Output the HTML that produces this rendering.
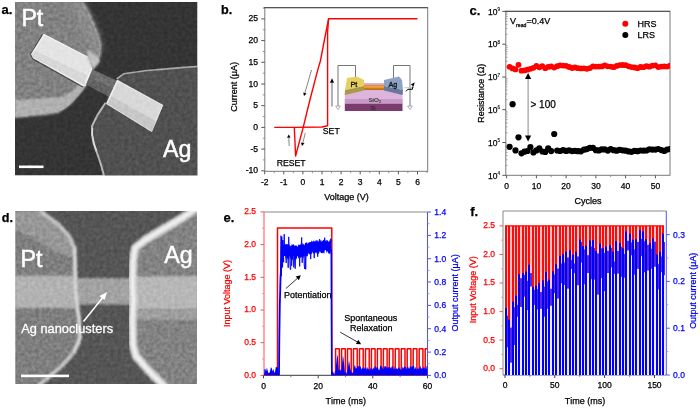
<!DOCTYPE html><html><head><meta charset="utf-8"><title>Figure</title><style>html,body{margin:0;padding:0;background:#fff;}svg{display:block;}text{font-family:'Liberation Sans', Arial, sans-serif;}</style></head><body>
<svg width="700" height="408" viewBox="0 0 700 408">
<defs>
<clipPath id="clipA"><rect x="15" y="2" width="182.5" height="173.5"/></clipPath>
<clipPath id="clipD"><rect x="15.3" y="211" width="181.7" height="173"/></clipPath>
<clipPath id="clipB"><rect x="264.8" y="7.6" width="162.8" height="163.8"/></clipPath>
<clipPath id="clipC"><rect x="505.8" y="11.4" width="164.2" height="163.9"/></clipPath>
<clipPath id="clipE"><rect x="264" y="212" width="163.5" height="163.4"/></clipPath>
<clipPath id="clipF"><rect x="503" y="211" width="163.3" height="164"/></clipPath>
<filter id="soft" x="-5%" y="-5%" width="110%" height="110%"><feGaussianBlur stdDeviation="0.8"/></filter>
<filter id="soft05" x="-5%" y="-5%" width="110%" height="110%"><feGaussianBlur stdDeviation="0.45"/></filter>
<filter id="soft3" x="-20%" y="-20%" width="140%" height="140%"><feGaussianBlur stdDeviation="3"/></filter>
<filter id="grain" color-interpolation-filters="sRGB" x="0" y="0" width="100%" height="100%"><feTurbulence type="fractalNoise" baseFrequency="0.28" numOctaves="3" seed="4" result="n"/><feColorMatrix type="matrix" values="1 0 0 0 0  1 0 0 0 0  1 0 0 0 0  0 0 0 0 1"/></filter>
<marker id="ah" viewBox="0 0 10 10" refX="9" refY="5" markerWidth="5" markerHeight="5" orient="auto"><path d="M0,0 L10,5 L0,10 z" fill="#000"/></marker>
</defs>
<rect width="700" height="408" fill="#fff"/>
<g clip-path="url(#clipA)">
<rect x="15" y="2" width="182.5" height="173.5" fill="#343434"/>
<polygon points="15,2 83,2 87,9 93,22 98,34 101,46 100,56 96,66 90,78 86,86 80,94 73,102 66,108 58,112 45,113 30,115 15,117" fill="#818181"/>
<polygon points="70,2 83,2 87,9 93,22 98,34 101,46 100,56 92,50 82,30" fill="#8c8c8c" filter="url(#soft3)"/>
<polygon points="15,101.5 30,100.5 45,99.5 58,99 66,97 72,93 78,87 82,82 87,80 86,86 80,94 73,102 66,108 58,113 45,115 30,116.5 15,118" fill="#b0b0b0" filter="url(#soft)"/>
<polyline points="15,101.5 30,100.5 45,99.5 58,99 66,97 72,93 78,87 82,82" fill="none" stroke="#c4c4c4" stroke-width="1.6" filter="url(#soft)"/>
<polyline points="83,2 87,9 93,22 98,34 101,46 100,56 97,63" fill="none" stroke="#c8c8c8" stroke-width="1" filter="url(#soft)"/>
<polygon points="116.7,79 124,73.7 145,70.7 169.5,68.6 187.6,67.1 198,66.5 198,176 104,176 101.6,166.7 98.7,157.7 93.8,144 91.9,134.2 91.9,126.4 97.7,114.6 105.6,102.8 110,92" fill="#505050"/>
<polyline points="116.7,79 124,73.7 145,70.7 169.5,68.6 187.6,67.1 198,66.5" fill="none" stroke="#a8a8a8" stroke-width="1.6" stroke-linejoin="round" filter="url(#soft05)"/>
<polyline points="105.6,102.8 97.7,114.6 91.9,126.4 91.9,134.2 93.8,144 98.7,157.7 101.6,166.7 104,176" fill="none" stroke="#b4b4b4" stroke-width="2" stroke-linejoin="round" filter="url(#soft05)"/>
<polyline points="92.5,128 92.2,134 93.8,143 96.5,151" fill="none" stroke="#e0e0e0" stroke-width="1.4" stroke-linejoin="round" filter="url(#soft05)"/>
<polyline points="42.5,34.5 30.6,54.3 33,59 83,87" fill="none" stroke="#4a4a4a" stroke-width="1.3" filter="url(#soft05)"/>
<polygon points="44,34.6 87.5,57 91.7,68.9 85.4,85 83.5,85.6 33.6,57.6 31.8,54.2" fill="#e4e4e4" stroke="#f2f2f2" stroke-width="1.4" stroke-linejoin="round"/>
<polygon points="34.5,50.5 86.5,75 84.5,85 33.6,57.6 31.8,54.2" fill="#d8d8d8"/>
<polygon points="91.7,68.9 117.2,80.8 113.2,99.1 85.4,84" fill="#6e6e6e"/>
<polygon points="88.5,77 115.5,90 113.2,99.1 85.4,84" fill="#626262"/>
<polygon points="117.5,80.6 162.5,105.2 151.7,131.1 107,103.6" fill="#d8d8d8" stroke="#e8e8e8" stroke-width="1.3" stroke-linejoin="round"/>
<polygon points="110.5,96 156.5,121.5 151.7,131.1 107,103.6" fill="#c8c8c8"/>
<polyline points="91.7,68.9 85.4,84" fill="none" stroke="#f4f4f4" stroke-width="1.4"/>
<polyline points="117.5,80.6 107,103.6" fill="none" stroke="#f0f0f0" stroke-width="1.4"/>
<polygon points="87,50 96,55 100,60 97,66 92,68 88,60" fill="#c0c0c0" filter="url(#soft)"/>
<text x="21.4" y="26.1" font-size="23.2" fill="#fff" text-anchor="start" font-weight="normal" stroke="#fff" stroke-width="0.5" >Pt</text>
<text x="163.1" y="156.7" font-size="23.2" fill="#fff" text-anchor="start" font-weight="normal" stroke="#fff" stroke-width="0.5" >Ag</text>
<rect x="19" y="165.5" width="24.5" height="2.6" fill="#fff"/>
<rect x="15" y="2" width="182.5" height="173.5" filter="url(#grain)" opacity="0.22" style="mix-blend-mode:overlay"/>
</g>
<g clip-path="url(#clipD)">
<rect x="15.3" y="211" width="182" height="173" fill="#555"/>
<polygon points="15,211 40,211 58,224 69,236 74.5,248 75,262 75.5,290 77,305 79,318 80,338 74,352 62,366 50,376 38,386 15,386" fill="#7e7e7e"/>
<polygon points="15,211 40,211 58,224 69,236 74.5,248 75,256 70,257 57,253 45,245 30,236 15,230" fill="#979797" filter="url(#soft)"/>
<polygon points="198,208 197,208 182,218 165,228 145,240 135,248 133,262 132.5,285 133.5,300 132.5,320 133,345 136,356 149,371 165,387 198,387" fill="#828282"/>
<rect x="15" y="275.6" width="61" height="32.4" fill="#b2b2b2" filter="url(#soft)"/>
<rect x="75" y="278" width="57" height="26.5" fill="#a2a2a2" filter="url(#soft)"/>
<rect x="132" y="276.3" width="66" height="33.5" fill="#b7b7b7" filter="url(#soft)"/>
<rect x="132" y="309.5" width="66" height="10.5" fill="#9e9e9e" filter="url(#soft)"/>
<polyline points="40,211 58,224 69,236 74.5,248 75,262 75.5,290 77,305 79,318 80,338 74,352 62,366 50,376 38,386" fill="none" stroke="#c6c6c6" stroke-width="4" stroke-linejoin="round" filter="url(#soft)"/>
<polyline points="74.5,248 75,262 75.5,290 77,305 79,318 80,338 74,352" fill="none" stroke="#e0e0e0" stroke-width="1.5" stroke-linejoin="round" filter="url(#soft)"/>
<polyline points="197,208 182,218 165,228 145,240 135,248 133,262 132.5,285 133.5,300 132.5,320 133,345 136,356 149,371 165,387" fill="none" stroke="#d0d0d0" stroke-width="8.5" stroke-linejoin="round" filter="url(#soft)"/>
<polyline points="197,208 182,218 165,228 145,240 135,248 133,262 132.5,285 133.5,300 132.5,320 133,345 136,356 149,371 165,387" fill="none" stroke="#f3f3f3" stroke-width="3.5" stroke-linejoin="round" filter="url(#soft)"/>
<text x="20.5" y="267.2" font-size="23.2" fill="#fff" text-anchor="start" font-weight="normal" stroke="#fff" stroke-width="0.5" >Pt</text>
<text x="164.3" y="263.2" font-size="23.2" fill="#fff" text-anchor="start" font-weight="normal" stroke="#fff" stroke-width="0.5" >Ag</text>
<text x="21.3" y="333.1" font-size="12.8" fill="#fff" text-anchor="start" font-weight="normal" stroke="#fff" stroke-width="0.3" >Ag nanoclusters</text>
<line x1="83.5" y1="321.5" x2="104" y2="296" stroke="#fff" stroke-width="1.5"/>
<polygon points="107,292 99.5,296 104.5,300" fill="#fff"/>
<rect x="21" y="374.6" width="48" height="2.6" fill="#fff"/>
<rect x="15.3" y="211" width="182" height="173" filter="url(#grain)" opacity="0.22" style="mix-blend-mode:overlay"/>
</g>
<rect x="264.8" y="7.6" width="162.9" height="163.7" fill="none" stroke="#7a7a7a" stroke-width="1"/>
<line x1="263.8" y1="7.6" x2="427.7" y2="7.6" stroke="#555" stroke-width="1.1"/>
<line x1="261.3" y1="170.8" x2="264.8" y2="170.8" stroke="#555" stroke-width="1"/>
<text x="258.1" y="173.3" font-size="8.6" fill="#000" text-anchor="end" font-weight="normal" stroke="#000" stroke-width="0.25" >-10</text>
<line x1="261.3" y1="149.1" x2="264.8" y2="149.1" stroke="#555" stroke-width="1"/>
<text x="258.1" y="151.6" font-size="8.6" fill="#000" text-anchor="end" font-weight="normal" stroke="#000" stroke-width="0.25" >-5</text>
<line x1="261.3" y1="127.4" x2="264.8" y2="127.4" stroke="#555" stroke-width="1"/>
<text x="258.1" y="129.9" font-size="8.6" fill="#000" text-anchor="end" font-weight="normal" stroke="#000" stroke-width="0.25" >0</text>
<line x1="261.3" y1="105.7" x2="264.8" y2="105.7" stroke="#555" stroke-width="1"/>
<text x="258.1" y="108.2" font-size="8.6" fill="#000" text-anchor="end" font-weight="normal" stroke="#000" stroke-width="0.25" >5</text>
<line x1="261.3" y1="84" x2="264.8" y2="84" stroke="#555" stroke-width="1"/>
<text x="258.1" y="86.5" font-size="8.6" fill="#000" text-anchor="end" font-weight="normal" stroke="#000" stroke-width="0.25" >10</text>
<line x1="261.3" y1="62.3" x2="264.8" y2="62.3" stroke="#555" stroke-width="1"/>
<text x="258.1" y="64.8" font-size="8.6" fill="#000" text-anchor="end" font-weight="normal" stroke="#000" stroke-width="0.25" >15</text>
<line x1="261.3" y1="40.6" x2="264.8" y2="40.6" stroke="#555" stroke-width="1"/>
<text x="258.1" y="43.1" font-size="8.6" fill="#000" text-anchor="end" font-weight="normal" stroke="#000" stroke-width="0.25" >20</text>
<line x1="261.3" y1="18.9" x2="264.8" y2="18.9" stroke="#555" stroke-width="1"/>
<text x="258.1" y="21.4" font-size="8.6" fill="#000" text-anchor="end" font-weight="normal" stroke="#000" stroke-width="0.25" >25</text>
<line x1="262.8" y1="159.9" x2="264.8" y2="159.9" stroke="#777" stroke-width="0.8"/>
<line x1="262.8" y1="138.2" x2="264.8" y2="138.2" stroke="#777" stroke-width="0.8"/>
<line x1="262.8" y1="116.6" x2="264.8" y2="116.6" stroke="#777" stroke-width="0.8"/>
<line x1="262.8" y1="94.9" x2="264.8" y2="94.9" stroke="#777" stroke-width="0.8"/>
<line x1="262.8" y1="73.2" x2="264.8" y2="73.2" stroke="#777" stroke-width="0.8"/>
<line x1="262.8" y1="51.5" x2="264.8" y2="51.5" stroke="#777" stroke-width="0.8"/>
<line x1="262.8" y1="29.8" x2="264.8" y2="29.8" stroke="#777" stroke-width="0.8"/>
<line x1="262.8" y1="8.1" x2="264.8" y2="8.1" stroke="#777" stroke-width="0.8"/>
<line x1="264.7" y1="171.3" x2="264.7" y2="174.3" stroke="#555" stroke-width="1"/>
<text x="264.7" y="184.5" font-size="8.5" fill="#000" text-anchor="middle" font-weight="normal" stroke="#000" stroke-width="0.25" >-2</text>
<line x1="274.2" y1="171.3" x2="274.2" y2="173.1" stroke="#777" stroke-width="0.8"/>
<line x1="283.8" y1="171.3" x2="283.8" y2="174.3" stroke="#555" stroke-width="1"/>
<text x="283.8" y="184.5" font-size="8.5" fill="#000" text-anchor="middle" font-weight="normal" stroke="#000" stroke-width="0.25" >-1</text>
<line x1="293.3" y1="171.3" x2="293.3" y2="173.1" stroke="#777" stroke-width="0.8"/>
<line x1="302.9" y1="171.3" x2="302.9" y2="174.3" stroke="#555" stroke-width="1"/>
<text x="302.9" y="184.5" font-size="8.5" fill="#000" text-anchor="middle" font-weight="normal" stroke="#000" stroke-width="0.25" >0</text>
<line x1="312.4" y1="171.3" x2="312.4" y2="173.1" stroke="#777" stroke-width="0.8"/>
<line x1="322" y1="171.3" x2="322" y2="174.3" stroke="#555" stroke-width="1"/>
<text x="322" y="184.5" font-size="8.5" fill="#000" text-anchor="middle" font-weight="normal" stroke="#000" stroke-width="0.25" >1</text>
<line x1="331.5" y1="171.3" x2="331.5" y2="173.1" stroke="#777" stroke-width="0.8"/>
<line x1="341.1" y1="171.3" x2="341.1" y2="174.3" stroke="#555" stroke-width="1"/>
<text x="341.1" y="184.5" font-size="8.5" fill="#000" text-anchor="middle" font-weight="normal" stroke="#000" stroke-width="0.25" >2</text>
<line x1="350.6" y1="171.3" x2="350.6" y2="173.1" stroke="#777" stroke-width="0.8"/>
<line x1="360.2" y1="171.3" x2="360.2" y2="174.3" stroke="#555" stroke-width="1"/>
<text x="360.2" y="184.5" font-size="8.5" fill="#000" text-anchor="middle" font-weight="normal" stroke="#000" stroke-width="0.25" >3</text>
<line x1="369.8" y1="171.3" x2="369.8" y2="173.1" stroke="#777" stroke-width="0.8"/>
<line x1="379.3" y1="171.3" x2="379.3" y2="174.3" stroke="#555" stroke-width="1"/>
<text x="379.3" y="184.5" font-size="8.5" fill="#000" text-anchor="middle" font-weight="normal" stroke="#000" stroke-width="0.25" >4</text>
<line x1="388.8" y1="171.3" x2="388.8" y2="173.1" stroke="#777" stroke-width="0.8"/>
<line x1="398.4" y1="171.3" x2="398.4" y2="174.3" stroke="#555" stroke-width="1"/>
<text x="398.4" y="184.5" font-size="8.5" fill="#000" text-anchor="middle" font-weight="normal" stroke="#000" stroke-width="0.25" >5</text>
<line x1="407.9" y1="171.3" x2="407.9" y2="173.1" stroke="#777" stroke-width="0.8"/>
<line x1="417.5" y1="171.3" x2="417.5" y2="174.3" stroke="#555" stroke-width="1"/>
<text x="417.5" y="184.5" font-size="8.5" fill="#000" text-anchor="middle" font-weight="normal" stroke="#000" stroke-width="0.25" >6</text>
<line x1="427" y1="171.3" x2="427" y2="173.1" stroke="#777" stroke-width="0.8"/>
<text x="346.5" y="200.3" font-size="9" fill="#000" text-anchor="middle" font-weight="normal" stroke="#000" stroke-width="0.25" >Voltage (V)</text>
<text x="0" y="0" font-size="9" fill="#000" text-anchor="middle" dominant-baseline="central" transform="translate(234.4,86.8) rotate(-90)" stroke="#000" stroke-width="0.25" >Current (&#956;A)</text>
<g>
<polyline points="338,106 338,65.5 355.5,65.5 355.5,80" fill="none" stroke="#666" stroke-width="0.9"/>
<polyline points="393.5,80 393.5,65.5 410,65.5 410,106" fill="none" stroke="#666" stroke-width="0.9"/>
<polygon points="335.6,106 340.4,106 338,109.5" fill="#fff" stroke="#999" stroke-width="0.8"/>
<polygon points="407.6,106 412.4,106 410,109.5" fill="#fff" stroke="#999" stroke-width="0.8"/>
<rect x="344.8" y="103.3" width="57.7" height="7.7" fill="#7d3a6e"/>
<polygon points="344.8,92 364,88.5 384,88.5 402.5,92 402.5,103.3 344.8,103.3" fill="#dcb4dc"/>
<polygon points="344.8,99 402.5,99 402.5,103.3 344.8,103.3" fill="#c99ac8"/>
<rect x="363" y="84" width="21.5" height="6" fill="#d98a22"/>
<rect x="363" y="85.5" width="21.5" height="2.2" fill="#eaa040"/>
<rect x="363" y="88.5" width="21.5" height="1.5" fill="#b8731a"/>
<rect x="363" y="83.2" width="21.5" height="1.8" fill="#d8a0d0"/>
<polygon points="347,78 357,76.5 364,80 364,86 345,90" fill="#e8d060"/>
<polygon points="345,90 364,86 364,90.5 344.8,95" fill="#a89a48"/>
<polygon points="384,80 399,76.5 402,80 403,90 384,86" fill="#8ea2c4"/>
<polygon points="384,86 403,90 402.5,95 384,90.5" fill="#69789a"/>
<text x="350.5" y="87.3" font-size="7.2" fill="#111" text-anchor="start" font-weight="normal" stroke="#111" stroke-width="0.3" >Pt</text>
<text x="388.5" y="87" font-size="7.2" fill="#111" text-anchor="start" font-weight="normal" stroke="#111" stroke-width="0.3" >Ag</text>
<text x="368.4" y="102" font-size="6.2" fill="#333" text-anchor="start" font-weight="normal" stroke="#333" stroke-width="0.15" >SiO<tspan font-size="4.4" dy="1.2">2</tspan></text>
<text x="370.5" y="109.5" font-size="5.5" fill="#333" text-anchor="start" font-weight="normal" stroke="#333" stroke-width="0.25" >Si</text>
<line x1="404.5" y1="87.7" x2="414.2" y2="87.7" stroke="#c4c4c4" stroke-width="1"/>
<polyline points="406,91.4 407.8,89.3 412.4,89.3 412.8,86.4" fill="none" stroke="#000" stroke-width="1"/>
<polygon points="414.8,82.2 410.9,84.6 413.5,86.6" fill="#000"/>
</g>
<line x1="311.5" y1="70" x2="304.9" y2="92.9" stroke="#777" stroke-width="0.9"/>
<polygon points="304,96 303.2,92.4 306.6,93.4" fill="#000"/>
<line x1="289.2" y1="146" x2="288.8" y2="137.7" stroke="#777" stroke-width="0.9"/>
<polygon points="288.7,134.5 290.6,137.6 287,137.8" fill="#000"/>
<line x1="305.3" y1="133" x2="302.8" y2="142.9" stroke="#777" stroke-width="0.9"/>
<polygon points="302,146 301,142.5 304.5,143.3" fill="#000"/>
<line x1="332" y1="106.5" x2="332" y2="82.8" stroke="#888" stroke-width="1.3"/>
<polygon points="332,78.3 334.1,82.8 329.9,82.8" fill="#000"/>
<polyline points="274.2,127.4 294.3,127.4 295.6,156 303.2,127.4 309.9,100 317.9,69.4 319.6,63.5 320.4,61 324.4,40 328.6,18.8 417.5,18.8" fill="none" stroke="#ff0000" stroke-width="1.4" stroke-linejoin="round"/>
<polyline points="293.9,127.4 322,127 327.6,125.7 327.6,32 328.6,18.8" fill="none" stroke="#ff0000" stroke-width="1.4" stroke-linejoin="round"/>
<text x="322.8" y="134.3" font-size="8.7" fill="#000" text-anchor="start" font-weight="normal" stroke="#000" stroke-width="0.25" >SET</text>
<text x="276.7" y="166.3" font-size="8.7" fill="#000" text-anchor="start" font-weight="normal" stroke="#000" stroke-width="0.25" >RESET</text>
<rect x="505.8" y="11.4" width="164.2" height="163.9" fill="none" stroke="#7a7a7a" stroke-width="1"/>
<line x1="504.8" y1="11.4" x2="670" y2="11.4" stroke="#555" stroke-width="1.1"/>
<line x1="502.3" y1="175.3" x2="505.8" y2="175.3" stroke="#555" stroke-width="1"/>
<text x="500" y="178.5" font-size="8.5" fill="#000" text-anchor="end" font-weight="normal" stroke="#000" stroke-width="0.25" >10<tspan font-size="4.6" dy="-3.6" stroke-width="0.1">4</tspan></text>
<line x1="505.8" y1="165.4" x2="507.6" y2="165.4" stroke="#888" stroke-width="0.7"/>
<line x1="505.8" y1="159.7" x2="507.6" y2="159.7" stroke="#888" stroke-width="0.7"/>
<line x1="505.8" y1="155.6" x2="507.6" y2="155.6" stroke="#888" stroke-width="0.7"/>
<line x1="505.8" y1="152.4" x2="507.6" y2="152.4" stroke="#888" stroke-width="0.7"/>
<line x1="505.8" y1="149.8" x2="507.6" y2="149.8" stroke="#888" stroke-width="0.7"/>
<line x1="505.8" y1="147.6" x2="507.6" y2="147.6" stroke="#888" stroke-width="0.7"/>
<line x1="505.8" y1="145.7" x2="507.6" y2="145.7" stroke="#888" stroke-width="0.7"/>
<line x1="505.8" y1="144" x2="507.6" y2="144" stroke="#888" stroke-width="0.7"/>
<line x1="502.3" y1="142.5" x2="505.8" y2="142.5" stroke="#555" stroke-width="1"/>
<text x="500" y="145.7" font-size="8.5" fill="#000" text-anchor="end" font-weight="normal" stroke="#000" stroke-width="0.25" >10<tspan font-size="4.6" dy="-3.6" stroke-width="0.1">5</tspan></text>
<line x1="505.8" y1="132.7" x2="507.6" y2="132.7" stroke="#888" stroke-width="0.7"/>
<line x1="505.8" y1="126.9" x2="507.6" y2="126.9" stroke="#888" stroke-width="0.7"/>
<line x1="505.8" y1="122.8" x2="507.6" y2="122.8" stroke="#888" stroke-width="0.7"/>
<line x1="505.8" y1="119.6" x2="507.6" y2="119.6" stroke="#888" stroke-width="0.7"/>
<line x1="505.8" y1="117" x2="507.6" y2="117" stroke="#888" stroke-width="0.7"/>
<line x1="505.8" y1="114.8" x2="507.6" y2="114.8" stroke="#888" stroke-width="0.7"/>
<line x1="505.8" y1="112.9" x2="507.6" y2="112.9" stroke="#888" stroke-width="0.7"/>
<line x1="505.8" y1="111.2" x2="507.6" y2="111.2" stroke="#888" stroke-width="0.7"/>
<line x1="502.3" y1="109.7" x2="505.8" y2="109.7" stroke="#555" stroke-width="1"/>
<text x="500" y="112.9" font-size="8.5" fill="#000" text-anchor="end" font-weight="normal" stroke="#000" stroke-width="0.25" >10<tspan font-size="4.6" dy="-3.6" stroke-width="0.1">6</tspan></text>
<line x1="505.8" y1="99.9" x2="507.6" y2="99.9" stroke="#888" stroke-width="0.7"/>
<line x1="505.8" y1="94.1" x2="507.6" y2="94.1" stroke="#888" stroke-width="0.7"/>
<line x1="505.8" y1="90" x2="507.6" y2="90" stroke="#888" stroke-width="0.7"/>
<line x1="505.8" y1="86.8" x2="507.6" y2="86.8" stroke="#888" stroke-width="0.7"/>
<line x1="505.8" y1="84.2" x2="507.6" y2="84.2" stroke="#888" stroke-width="0.7"/>
<line x1="505.8" y1="82" x2="507.6" y2="82" stroke="#888" stroke-width="0.7"/>
<line x1="505.8" y1="80.1" x2="507.6" y2="80.1" stroke="#888" stroke-width="0.7"/>
<line x1="505.8" y1="78.5" x2="507.6" y2="78.5" stroke="#888" stroke-width="0.7"/>
<line x1="502.3" y1="77" x2="505.8" y2="77" stroke="#555" stroke-width="1"/>
<text x="500" y="80.2" font-size="8.5" fill="#000" text-anchor="end" font-weight="normal" stroke="#000" stroke-width="0.25" >10<tspan font-size="4.6" dy="-3.6" stroke-width="0.1">7</tspan></text>
<line x1="505.8" y1="67.1" x2="507.6" y2="67.1" stroke="#888" stroke-width="0.7"/>
<line x1="505.8" y1="61.3" x2="507.6" y2="61.3" stroke="#888" stroke-width="0.7"/>
<line x1="505.8" y1="57.2" x2="507.6" y2="57.2" stroke="#888" stroke-width="0.7"/>
<line x1="505.8" y1="54" x2="507.6" y2="54" stroke="#888" stroke-width="0.7"/>
<line x1="505.8" y1="51.5" x2="507.6" y2="51.5" stroke="#888" stroke-width="0.7"/>
<line x1="505.8" y1="49.3" x2="507.6" y2="49.3" stroke="#888" stroke-width="0.7"/>
<line x1="505.8" y1="47.4" x2="507.6" y2="47.4" stroke="#888" stroke-width="0.7"/>
<line x1="505.8" y1="45.7" x2="507.6" y2="45.7" stroke="#888" stroke-width="0.7"/>
<line x1="502.3" y1="44.2" x2="505.8" y2="44.2" stroke="#555" stroke-width="1"/>
<text x="500" y="47.4" font-size="8.5" fill="#000" text-anchor="end" font-weight="normal" stroke="#000" stroke-width="0.25" >10<tspan font-size="4.6" dy="-3.6" stroke-width="0.1">8</tspan></text>
<line x1="505.8" y1="34.3" x2="507.6" y2="34.3" stroke="#888" stroke-width="0.7"/>
<line x1="505.8" y1="28.5" x2="507.6" y2="28.5" stroke="#888" stroke-width="0.7"/>
<line x1="505.8" y1="24.4" x2="507.6" y2="24.4" stroke="#888" stroke-width="0.7"/>
<line x1="505.8" y1="21.3" x2="507.6" y2="21.3" stroke="#888" stroke-width="0.7"/>
<line x1="505.8" y1="18.7" x2="507.6" y2="18.7" stroke="#888" stroke-width="0.7"/>
<line x1="505.8" y1="16.5" x2="507.6" y2="16.5" stroke="#888" stroke-width="0.7"/>
<line x1="505.8" y1="14.6" x2="507.6" y2="14.6" stroke="#888" stroke-width="0.7"/>
<line x1="505.8" y1="12.9" x2="507.6" y2="12.9" stroke="#888" stroke-width="0.7"/>
<line x1="502.3" y1="11.4" x2="505.8" y2="11.4" stroke="#555" stroke-width="1"/>
<text x="500" y="14.6" font-size="8.5" fill="#000" text-anchor="end" font-weight="normal" stroke="#000" stroke-width="0.25" >10<tspan font-size="4.6" dy="-3.6" stroke-width="0.1">9</tspan></text>
<line x1="506.6" y1="175.3" x2="506.6" y2="178.3" stroke="#555" stroke-width="1"/>
<text x="506.6" y="188.6" font-size="8.5" fill="#000" text-anchor="middle" font-weight="normal" stroke="#000" stroke-width="0.25" >0</text>
<line x1="521.5" y1="175.3" x2="521.5" y2="177.1" stroke="#777" stroke-width="0.8"/>
<line x1="536.4" y1="175.3" x2="536.4" y2="178.3" stroke="#555" stroke-width="1"/>
<text x="536.4" y="188.6" font-size="8.5" fill="#000" text-anchor="middle" font-weight="normal" stroke="#000" stroke-width="0.25" >10</text>
<line x1="551.2" y1="175.3" x2="551.2" y2="177.1" stroke="#777" stroke-width="0.8"/>
<line x1="566.1" y1="175.3" x2="566.1" y2="178.3" stroke="#555" stroke-width="1"/>
<text x="566.1" y="188.6" font-size="8.5" fill="#000" text-anchor="middle" font-weight="normal" stroke="#000" stroke-width="0.25" >20</text>
<line x1="581" y1="175.3" x2="581" y2="177.1" stroke="#777" stroke-width="0.8"/>
<line x1="595.9" y1="175.3" x2="595.9" y2="178.3" stroke="#555" stroke-width="1"/>
<text x="595.9" y="188.6" font-size="8.5" fill="#000" text-anchor="middle" font-weight="normal" stroke="#000" stroke-width="0.25" >30</text>
<line x1="610.7" y1="175.3" x2="610.7" y2="177.1" stroke="#777" stroke-width="0.8"/>
<line x1="625.6" y1="175.3" x2="625.6" y2="178.3" stroke="#555" stroke-width="1"/>
<text x="625.6" y="188.6" font-size="8.5" fill="#000" text-anchor="middle" font-weight="normal" stroke="#000" stroke-width="0.25" >40</text>
<line x1="640.5" y1="175.3" x2="640.5" y2="177.1" stroke="#777" stroke-width="0.8"/>
<line x1="655.4" y1="175.3" x2="655.4" y2="178.3" stroke="#555" stroke-width="1"/>
<text x="655.4" y="188.6" font-size="8.5" fill="#000" text-anchor="middle" font-weight="normal" stroke="#000" stroke-width="0.25" >50</text>
<text x="588" y="204.3" font-size="9" fill="#000" text-anchor="middle" font-weight="normal" stroke="#000" stroke-width="0.25" >Cycles</text>
<text x="0" y="0" font-size="8.9" fill="#000" text-anchor="middle" dominant-baseline="central" transform="translate(480.5,93.2) rotate(-90)" stroke="#000" stroke-width="0.25" >Resistance (&#937;)</text>
<text x="510" y="24" font-size="9" fill="#000" text-anchor="start" font-weight="normal" stroke="#000" stroke-width="0.25" >V<tspan font-size="5.2" dy="2.6">read</tspan><tspan dy="-2.6">=0.4V</tspan></text>
<circle cx="625.3" cy="23.8" r="3" fill="#ff0000"/>
<circle cx="625.3" cy="35" r="3" fill="#000"/>
<text x="637.5" y="27" font-size="9" fill="#000" text-anchor="start" font-weight="normal" stroke="#000" stroke-width="0.25" >HRS</text>
<text x="637.5" y="38.2" font-size="9" fill="#000" text-anchor="start" font-weight="normal" stroke="#000" stroke-width="0.25" >LRS</text>
<g clip-path="url(#clipC)">
<circle cx="509.6" cy="66.8" r="2.9" fill="#ff0000"/>
<circle cx="512.6" cy="68.4" r="2.9" fill="#ff0000"/>
<circle cx="515.5" cy="69.4" r="2.9" fill="#ff0000"/>
<circle cx="518.5" cy="64.8" r="2.9" fill="#ff0000"/>
<circle cx="521.5" cy="70.7" r="2.9" fill="#ff0000"/>
<circle cx="524.5" cy="70.4" r="2.9" fill="#ff0000"/>
<circle cx="527.4" cy="69.7" r="2.9" fill="#ff0000"/>
<circle cx="530.4" cy="68.8" r="2.9" fill="#ff0000"/>
<circle cx="533.4" cy="67.8" r="2.9" fill="#ff0000"/>
<circle cx="536.4" cy="66" r="2.9" fill="#ff0000"/>
<circle cx="539.3" cy="67.3" r="2.9" fill="#ff0000"/>
<circle cx="542.3" cy="66.2" r="2.9" fill="#ff0000"/>
<circle cx="545.3" cy="68.2" r="2.9" fill="#ff0000"/>
<circle cx="548.2" cy="66.9" r="2.9" fill="#ff0000"/>
<circle cx="551.2" cy="66.4" r="2.9" fill="#ff0000"/>
<circle cx="554.2" cy="67.6" r="2.9" fill="#ff0000"/>
<circle cx="557.2" cy="66.2" r="2.9" fill="#ff0000"/>
<circle cx="560.1" cy="65.4" r="2.9" fill="#ff0000"/>
<circle cx="563.1" cy="65.6" r="2.9" fill="#ff0000"/>
<circle cx="566.1" cy="65.8" r="2.9" fill="#ff0000"/>
<circle cx="569.1" cy="67" r="2.9" fill="#ff0000"/>
<circle cx="572.1" cy="68" r="2.9" fill="#ff0000"/>
<circle cx="575" cy="67.5" r="2.9" fill="#ff0000"/>
<circle cx="578" cy="68.2" r="2.9" fill="#ff0000"/>
<circle cx="581" cy="68.4" r="2.9" fill="#ff0000"/>
<circle cx="584" cy="68.3" r="2.9" fill="#ff0000"/>
<circle cx="586.9" cy="68.8" r="2.9" fill="#ff0000"/>
<circle cx="589.9" cy="68.1" r="2.9" fill="#ff0000"/>
<circle cx="592.9" cy="66.4" r="2.9" fill="#ff0000"/>
<circle cx="595.9" cy="66.6" r="2.9" fill="#ff0000"/>
<circle cx="598.8" cy="66.6" r="2.9" fill="#ff0000"/>
<circle cx="601.8" cy="66.4" r="2.9" fill="#ff0000"/>
<circle cx="604.8" cy="65.4" r="2.9" fill="#ff0000"/>
<circle cx="607.8" cy="66.3" r="2.9" fill="#ff0000"/>
<circle cx="610.7" cy="66.6" r="2.9" fill="#ff0000"/>
<circle cx="613.7" cy="67.2" r="2.9" fill="#ff0000"/>
<circle cx="616.7" cy="65.9" r="2.9" fill="#ff0000"/>
<circle cx="619.6" cy="65.1" r="2.9" fill="#ff0000"/>
<circle cx="622.6" cy="65" r="2.9" fill="#ff0000"/>
<circle cx="625.6" cy="65.2" r="2.9" fill="#ff0000"/>
<circle cx="628.6" cy="66.3" r="2.9" fill="#ff0000"/>
<circle cx="631.6" cy="67.1" r="2.9" fill="#ff0000"/>
<circle cx="634.5" cy="67.5" r="2.9" fill="#ff0000"/>
<circle cx="637.5" cy="68.2" r="2.9" fill="#ff0000"/>
<circle cx="640.5" cy="67" r="2.9" fill="#ff0000"/>
<circle cx="643.5" cy="67.2" r="2.9" fill="#ff0000"/>
<circle cx="646.4" cy="66.2" r="2.9" fill="#ff0000"/>
<circle cx="649.4" cy="66.7" r="2.9" fill="#ff0000"/>
<circle cx="652.4" cy="65.7" r="2.9" fill="#ff0000"/>
<circle cx="655.4" cy="65.3" r="2.9" fill="#ff0000"/>
<circle cx="658.3" cy="67.1" r="2.9" fill="#ff0000"/>
<circle cx="661.3" cy="66.6" r="2.9" fill="#ff0000"/>
<circle cx="664.3" cy="66.4" r="2.9" fill="#ff0000"/>
<circle cx="667.2" cy="66.6" r="2.9" fill="#ff0000"/>
<circle cx="670.2" cy="65.6" r="2.9" fill="#ff0000"/>
<circle cx="509.6" cy="146.8" r="3.1" fill="#000"/>
<circle cx="512.6" cy="104.2" r="3.1" fill="#000"/>
<circle cx="515.5" cy="150.4" r="3.1" fill="#000"/>
<circle cx="518.5" cy="137.3" r="3.1" fill="#000"/>
<circle cx="521.5" cy="153.3" r="3.1" fill="#000"/>
<circle cx="524.5" cy="151.7" r="3.1" fill="#000"/>
<circle cx="527.4" cy="151" r="3.1" fill="#000"/>
<circle cx="530.4" cy="147.1" r="3.1" fill="#000"/>
<circle cx="533.4" cy="152.4" r="3.1" fill="#000"/>
<circle cx="536.4" cy="150.4" r="3.1" fill="#000"/>
<circle cx="539.3" cy="148.4" r="3.1" fill="#000"/>
<circle cx="542.3" cy="151.5" r="3.1" fill="#000"/>
<circle cx="545.3" cy="151.9" r="3.1" fill="#000"/>
<circle cx="548.2" cy="148.4" r="3.1" fill="#000"/>
<circle cx="551.2" cy="151.1" r="3.1" fill="#000"/>
<circle cx="554.2" cy="134" r="3.1" fill="#000"/>
<circle cx="557.2" cy="150.5" r="3.1" fill="#000"/>
<circle cx="560.1" cy="151" r="3.1" fill="#000"/>
<circle cx="563.1" cy="150.1" r="3.1" fill="#000"/>
<circle cx="566.1" cy="150.9" r="3.1" fill="#000"/>
<circle cx="569.1" cy="150.3" r="3.1" fill="#000"/>
<circle cx="572.1" cy="151.1" r="3.1" fill="#000"/>
<circle cx="575" cy="150.8" r="3.1" fill="#000"/>
<circle cx="578" cy="151.2" r="3.1" fill="#000"/>
<circle cx="581" cy="151.3" r="3.1" fill="#000"/>
<circle cx="584" cy="149.7" r="3.1" fill="#000"/>
<circle cx="586.9" cy="149.1" r="3.1" fill="#000"/>
<circle cx="589.9" cy="147.8" r="3.1" fill="#000"/>
<circle cx="592.9" cy="147.8" r="3.1" fill="#000"/>
<circle cx="595.9" cy="150.2" r="3.1" fill="#000"/>
<circle cx="598.8" cy="150.4" r="3.1" fill="#000"/>
<circle cx="601.8" cy="149.4" r="3.1" fill="#000"/>
<circle cx="604.8" cy="149.4" r="3.1" fill="#000"/>
<circle cx="607.8" cy="150.6" r="3.1" fill="#000"/>
<circle cx="610.7" cy="149.2" r="3.1" fill="#000"/>
<circle cx="613.7" cy="150.2" r="3.1" fill="#000"/>
<circle cx="616.7" cy="150.7" r="3.1" fill="#000"/>
<circle cx="619.6" cy="149.8" r="3.1" fill="#000"/>
<circle cx="622.6" cy="150.3" r="3.1" fill="#000"/>
<circle cx="625.6" cy="150.7" r="3.1" fill="#000"/>
<circle cx="628.6" cy="151.4" r="3.1" fill="#000"/>
<circle cx="631.6" cy="151.8" r="3.1" fill="#000"/>
<circle cx="634.5" cy="150.9" r="3.1" fill="#000"/>
<circle cx="637.5" cy="151.2" r="3.1" fill="#000"/>
<circle cx="640.5" cy="150.5" r="3.1" fill="#000"/>
<circle cx="643.5" cy="150.6" r="3.1" fill="#000"/>
<circle cx="646.4" cy="150.5" r="3.1" fill="#000"/>
<circle cx="649.4" cy="149.3" r="3.1" fill="#000"/>
<circle cx="652.4" cy="149.6" r="3.1" fill="#000"/>
<circle cx="655.4" cy="149.6" r="3.1" fill="#000"/>
<circle cx="658.3" cy="149" r="3.1" fill="#000"/>
<circle cx="661.3" cy="150.1" r="3.1" fill="#000"/>
<circle cx="664.3" cy="150.9" r="3.1" fill="#000"/>
<circle cx="667.2" cy="149.6" r="3.1" fill="#000"/>
<circle cx="670.2" cy="149.1" r="3.1" fill="#000"/>
</g>
<line x1="528.1" y1="78" x2="528.1" y2="137" stroke="#888" stroke-width="1"/>
<polygon points="528.1,73 525,79 531.2,79" fill="#000"/>
<polygon points="528.1,141.5 525,135.5 531.2,135.5" fill="#000"/>
<text x="530.5" y="107.8" font-size="10" fill="#000" text-anchor="start" font-weight="normal" stroke="#000" stroke-width="0.25" >&gt; 100</text>
<line x1="264" y1="212" x2="427.5" y2="212" stroke="#8a8a8a" stroke-width="1.1"/>
<line x1="264" y1="375.4" x2="427.5" y2="375.4" stroke="#606060" stroke-width="1.2"/>
<line x1="264" y1="212" x2="264" y2="375.4" stroke="#ff5050" stroke-width="1"/>
<line x1="427.5" y1="212" x2="427.5" y2="375.4" stroke="#5050ff" stroke-width="1"/>
<line x1="260.5" y1="375.4" x2="264" y2="375.4" stroke="#ff5050" stroke-width="1"/>
<text x="256" y="377.8" font-size="8.5" fill="#ff0000" text-anchor="end" font-weight="normal" stroke="#ff0000" stroke-width="0.25" >0.0</text>
<line x1="260.5" y1="342.7" x2="264" y2="342.7" stroke="#ff5050" stroke-width="1"/>
<text x="256" y="345.1" font-size="8.5" fill="#ff0000" text-anchor="end" font-weight="normal" stroke="#ff0000" stroke-width="0.25" >0.5</text>
<line x1="260.5" y1="310" x2="264" y2="310" stroke="#ff5050" stroke-width="1"/>
<text x="256" y="312.4" font-size="8.5" fill="#ff0000" text-anchor="end" font-weight="normal" stroke="#ff0000" stroke-width="0.25" >1.0</text>
<line x1="260.5" y1="277.3" x2="264" y2="277.3" stroke="#ff5050" stroke-width="1"/>
<text x="256" y="279.7" font-size="8.5" fill="#ff0000" text-anchor="end" font-weight="normal" stroke="#ff0000" stroke-width="0.25" >1.5</text>
<line x1="260.5" y1="244.6" x2="264" y2="244.6" stroke="#ff5050" stroke-width="1"/>
<text x="256" y="247" font-size="8.5" fill="#ff0000" text-anchor="end" font-weight="normal" stroke="#ff0000" stroke-width="0.25" >2.0</text>
<line x1="260.5" y1="211.9" x2="264" y2="211.9" stroke="#ff5050" stroke-width="1"/>
<text x="256" y="214.3" font-size="8.5" fill="#ff0000" text-anchor="end" font-weight="normal" stroke="#ff0000" stroke-width="0.25" >2.5</text>
<line x1="427.5" y1="375.4" x2="431" y2="375.4" stroke="#5050ff" stroke-width="1"/>
<text x="434.3" y="378.4" font-size="8.5" fill="#0000ff" text-anchor="start" font-weight="normal" stroke="#0000ff" stroke-width="0.25" >0.0</text>
<line x1="427.5" y1="352.1" x2="431" y2="352.1" stroke="#5050ff" stroke-width="1"/>
<text x="434.3" y="355.1" font-size="8.5" fill="#0000ff" text-anchor="start" font-weight="normal" stroke="#0000ff" stroke-width="0.25" >0.2</text>
<line x1="427.5" y1="328.7" x2="431" y2="328.7" stroke="#5050ff" stroke-width="1"/>
<text x="434.3" y="331.7" font-size="8.5" fill="#0000ff" text-anchor="start" font-weight="normal" stroke="#0000ff" stroke-width="0.25" >0.4</text>
<line x1="427.5" y1="305.4" x2="431" y2="305.4" stroke="#5050ff" stroke-width="1"/>
<text x="434.3" y="308.4" font-size="8.5" fill="#0000ff" text-anchor="start" font-weight="normal" stroke="#0000ff" stroke-width="0.25" >0.6</text>
<line x1="427.5" y1="282" x2="431" y2="282" stroke="#5050ff" stroke-width="1"/>
<text x="434.3" y="285" font-size="8.5" fill="#0000ff" text-anchor="start" font-weight="normal" stroke="#0000ff" stroke-width="0.25" >0.8</text>
<line x1="427.5" y1="258.7" x2="431" y2="258.7" stroke="#5050ff" stroke-width="1"/>
<text x="434.3" y="261.7" font-size="8.5" fill="#0000ff" text-anchor="start" font-weight="normal" stroke="#0000ff" stroke-width="0.25" >1.0</text>
<line x1="427.5" y1="235.4" x2="431" y2="235.4" stroke="#5050ff" stroke-width="1"/>
<text x="434.3" y="238.4" font-size="8.5" fill="#0000ff" text-anchor="start" font-weight="normal" stroke="#0000ff" stroke-width="0.25" >1.2</text>
<line x1="427.5" y1="212" x2="431" y2="212" stroke="#5050ff" stroke-width="1"/>
<text x="434.3" y="215" font-size="8.5" fill="#0000ff" text-anchor="start" font-weight="normal" stroke="#0000ff" stroke-width="0.25" >1.4</text>
<line x1="263.5" y1="375.4" x2="263.5" y2="378.4" stroke="#444" stroke-width="1"/>
<text x="263.5" y="388.9" font-size="8.5" fill="#000" text-anchor="middle" font-weight="normal" stroke="#000" stroke-width="0.25" >0</text>
<line x1="318.2" y1="375.4" x2="318.2" y2="378.4" stroke="#444" stroke-width="1"/>
<text x="318.2" y="388.9" font-size="8.5" fill="#000" text-anchor="middle" font-weight="normal" stroke="#000" stroke-width="0.25" >20</text>
<line x1="372.8" y1="375.4" x2="372.8" y2="378.4" stroke="#444" stroke-width="1"/>
<text x="372.8" y="388.9" font-size="8.5" fill="#000" text-anchor="middle" font-weight="normal" stroke="#000" stroke-width="0.25" >40</text>
<line x1="427.5" y1="375.4" x2="427.5" y2="378.4" stroke="#444" stroke-width="1"/>
<text x="427.5" y="388.9" font-size="8.5" fill="#000" text-anchor="middle" font-weight="normal" stroke="#000" stroke-width="0.25" >60</text>
<line x1="290.8" y1="375.4" x2="290.8" y2="377.2" stroke="#666" stroke-width="0.8"/>
<line x1="345.5" y1="375.4" x2="345.5" y2="377.2" stroke="#666" stroke-width="0.8"/>
<line x1="400.1" y1="375.4" x2="400.1" y2="377.2" stroke="#666" stroke-width="0.8"/>
<line x1="262" y1="359" x2="264" y2="359" stroke="#ff8080" stroke-width="0.8"/>
<line x1="262" y1="326.3" x2="264" y2="326.3" stroke="#ff8080" stroke-width="0.8"/>
<line x1="262" y1="293.6" x2="264" y2="293.6" stroke="#ff8080" stroke-width="0.8"/>
<line x1="262" y1="260.9" x2="264" y2="260.9" stroke="#ff8080" stroke-width="0.8"/>
<line x1="262" y1="228.2" x2="264" y2="228.2" stroke="#ff8080" stroke-width="0.8"/>
<line x1="427.5" y1="363.7" x2="429.5" y2="363.7" stroke="#8080ff" stroke-width="0.8"/>
<line x1="427.5" y1="340.4" x2="429.5" y2="340.4" stroke="#8080ff" stroke-width="0.8"/>
<line x1="427.5" y1="317" x2="429.5" y2="317" stroke="#8080ff" stroke-width="0.8"/>
<line x1="427.5" y1="293.7" x2="429.5" y2="293.7" stroke="#8080ff" stroke-width="0.8"/>
<line x1="427.5" y1="270.4" x2="429.5" y2="270.4" stroke="#8080ff" stroke-width="0.8"/>
<line x1="427.5" y1="247" x2="429.5" y2="247" stroke="#8080ff" stroke-width="0.8"/>
<line x1="427.5" y1="223.7" x2="429.5" y2="223.7" stroke="#8080ff" stroke-width="0.8"/>
<g clip-path="url(#clipE)">
<polyline points="264,375.4 277.5,375.4 277.5,228 331.8,228 331.8,375.4 335.6,375.4 335.6,375.4 335.6,348.8 339.3,348.8 339.3,375.4 341.6,375.4 341.6,375.4 341.6,348.8 345.3,348.8 345.3,375.4 347.5,375.4 347.5,375.4 347.5,348.8 351.2,348.8 351.2,375.4 353.5,375.4 353.5,375.4 353.5,348.8 357.2,348.8 357.2,375.4 359.5,375.4 359.5,375.4 359.5,348.8 363.2,348.8 363.2,375.4 365.5,375.4 365.5,375.4 365.5,348.8 369.2,348.8 369.2,375.4 371.4,375.4 371.4,375.4 371.4,348.8 375.1,348.8 375.1,375.4 377.4,375.4 377.4,375.4 377.4,348.8 381.1,348.8 381.1,375.4 383.4,375.4 383.4,375.4 383.4,348.8 387.1,348.8 387.1,375.4 389.3,375.4 389.3,375.4 389.3,348.8 393,348.8 393,375.4 395.3,375.4 395.3,375.4 395.3,348.8 399,348.8 399,375.4 401.3,375.4 401.3,375.4 401.3,348.8 405,348.8 405,375.4 407.2,375.4 407.2,375.4 407.2,348.8 410.9,348.8 410.9,375.4 413.2,375.4 413.2,375.4 413.2,348.8 416.9,348.8 416.9,375.4 419.2,375.4 419.2,375.4 419.2,348.8 422.9,348.8 422.9,375.4 425.2,375.4 425.2,375.4 425.2,348.8 428.9,348.8 428.9,375.4 431.1,375.4" fill="none" stroke="#ff0000" stroke-width="1.5" stroke-linejoin="round"/>
<polygon points="264,375.4 264.5,369 265.3,368.7 266.1,371.6 266.9,367.5 267.7,370.7 268.5,373.1 269.3,373.1 270.1,371.1 270.9,367.3 271.7,368 272.5,371.6 273.3,368.8 274.1,371.7 274.9,373.1 275.7,367.3 276.5,367.1 277.3,367.7 278.1,367 278.9,374 279,375.4" fill="#0000ff"/>
<polyline points="279,375.4 279.3,340.4 279.8,305.4 280.6,276.2 281.6,258.7" fill="none" stroke="#0000ff" stroke-width="1.8"/>
<polygon points="281,246.6 281.6,243.6 282.2,244.8 282.8,245.3 283.4,245.8 284,245 284.6,244.6 285.2,244 285.8,244.7 286.4,244 287,243.9 287.6,244.5 288.2,244.1 288.8,246 289.4,244 290,246.7 290.6,245.6 291.2,246 291.8,244 292.4,244.9 293,244.5 293.6,243.9 294.2,245.3 294.8,245.9 295.4,244.9 296,246.3 296.6,244.9 297.2,246.9 297.8,245.9 298.4,243.9 299,245.4 299.6,244.8 300.2,245 300.8,243.5 301.4,245 302,245.5 302.6,242.7 303.2,244 303.8,244.3 304.4,245.5 305,243.1 305.6,242.9 306.2,242.5 306.8,242.2 307.4,244.4 308,241.9 308.6,243.2 309.2,241.8 309.8,242.4 310.4,242.2 311,242.2 311.6,240.4 312.2,241 312.8,241.9 313.4,240.1 314,242.3 314.6,240.5 315.2,241.8 315.8,240 316.4,240 317,241.8 317.6,239.8 318.2,242.2 318.8,241.1 319.4,240.1 320,242.3 320.6,240.1 321.2,240.1 321.8,242.5 322.4,240.2 323,241.7 323.6,241.5 324.2,239.7 324.8,242.9 325.4,239.9 326,241.4 326.6,239.7 327.2,240.3 327.8,240.6 328.4,241.9 329,242.1 329.6,240.9 330.2,240.1 330.8,239.8 331.4,239.7 331.4,250.4 330.8,251.4 330.2,254.4 329.6,253.3 329,254.3 328.4,253 327.8,252.2 327.2,250.7 326.6,253.6 326,250.2 325.4,250 324.8,250.2 324.2,253.9 323.6,252.7 323,252.7 322.4,253.3 321.8,253.3 321.2,253 320.6,251.6 320,253.3 319.4,250.7 318.8,253.7 318.2,254.1 317.6,252.5 317,251.6 316.4,253.8 315.8,252.6 315.2,253.1 314.6,254.1 314,252.6 313.4,253.5 312.8,253.6 312.2,251.2 311.6,254.7 311,253.3 310.4,252.6 309.8,254.2 309.2,254.5 308.6,254.1 308,252.1 307.4,256.6 306.8,253.7 306.2,255.8 305.6,255.6 305,257.7 304.4,255.4 303.8,255.9 303.2,258.8 302.6,256.8 302,258.1 301.4,256.4 300.8,257.7 300.2,257.5 299.6,257.7 299,258 298.4,258.7 297.8,256 297.2,256.4 296.6,259.7 296,258.5 295.4,260.3 294.8,260.1 294.2,255.8 293.6,255.9 293,258.9 292.4,260.2 291.8,260.2 291.2,256.9 290.6,259.7 290,256.7 289.4,255.8 288.8,260.2 288.2,257.8 287.6,259.5 287,257.8 286.4,255.9 285.8,259.7 285.2,255.8 284.6,256.1 284,256.2 283.4,257.7 282.8,258.6 282.2,259 281.6,258.4 281,259.4" fill="#0000ff"/>
<polyline points="281.2,249.6 281.7,263.4 282.2,267.6 282.7,250.2 283.2,245.4 283.7,252.4 284.2,234.2 284.7,247.2 285.2,254.1 285.7,246.8 286.2,263 286.7,247 287.2,256.3 287.7,246.3 288.2,267.8 288.7,236.9 289.2,250.8 289.7,256.3 290.2,269.2 290.7,269.7 291.2,246.4 291.7,265.7 292.2,252.7 292.7,248.8 293.2,252.2 293.7,267.3 294.2,265.2 294.7,251.9 295.2,268.7 295.7,249.3 296.2,251.9 296.7,249.1 297.2,252 297.7,248.2 298.2,248.3 298.7,253.5 299.2,248.3 299.7,266.4 300.2,246 300.7,251.8 301.2,246.8 301.7,237.4 302.2,262.8 302.7,245.2 303.2,247.5 303.7,248.5 304.2,264.9 304.7,269 305.2,253.8 305.7,269.4 306.2,252 306.7,256.1 307.2,256.1 307.7,244.2 308.2,246.9 308.7,252.6 309.2,247.3 309.7,251.4 310.2,242.4 310.7,259.1 311.2,243.2 311.7,249.9 312.2,245.2 312.7,247.6 313.2,247.5 313.7,247.3 314.2,258.1 314.7,247.4 315.2,250 315.7,243.8 316.2,246.3 316.7,244.9 317.2,250.1 317.7,256.7 318.2,246.3 318.7,244.1 319.2,240.3 319.7,239.1 320.2,249.3 320.7,241.7 321.2,244.3 321.7,242.7 322.2,248.9 322.7,241.1 323.2,247.7 323.7,239.9 324.2,243.6 324.7,237.7 325.2,245.4 325.7,242.9 326.2,245.8 326.7,244.1 327.2,247.5 327.7,241.6 328.2,249.3 328.7,244.2 329.2,241.6 329.7,249.2 330.2,240.3 330.7,238.7 331.2,242.2" fill="none" stroke="#0000ff" stroke-width="0.9" stroke-linejoin="bevel"/>
<polyline points="280.4,287.9 280.9,235.4 281.4,276.2 281.9,236.5 282.5,266.9 283.1,240 283.7,262.2" fill="none" stroke="#0000ff" stroke-width="1.1"/>
<polyline points="331.3,249.4 331.5,317 331.8,375.4" fill="none" stroke="#0000ff" stroke-width="1.6"/>
<polygon points="331.8,375.4 332,371.4 332.5,372 333,371.5 333.5,372.7 334,373.8 334.5,374.4 335,370.5 335.5,372.9 336,365.6 336.5,361.4 337,356.6 337.5,354.4 338,359 338.5,366.3 339,371.2 339.5,369.9 340,369.7 340.5,369.6 341,371.4 341.5,369.6 342,365.1 342.5,359.5 343,355.2 343.5,358.6 344,362.7 344.5,367.9 345,373.4 345.5,370.7 346,374.1 346.5,371.8 347,374.5 347.5,369 348,367.3 348.5,363.7 349,360.2 349.5,362.9 350,366.9 350.5,369.5 351,370.9 351.5,372.6 352,371.8 352.5,373 353,372.9 353.5,371.7 354,367.5 354.5,366 355,364.6 355.5,367.3 356,369.1 356.5,367.6 357,368.6 357.5,366.9 358,366.1 358.5,365.8 359,366.7 359.5,366.4 360,366.1 360.5,366.6 361,367.7 361.5,369 362,369.4 362.5,366.9 363,368.2 363.5,368.7 364,366.6 364.5,369.3 365,366.8 365.5,368.4 366,367.4 366.5,370.1 367,366.5 367.5,368 368,369.2 368.5,368.3 369,370 369.5,369.4 370,369.9 370.5,368.1 371,366.9 371.5,368.3 372,370 372.5,369.1 373,367.9 373.5,367.2 374,369.6 374.5,366.8 375,366.5 375.5,365.8 376,369 376.5,366.3 377,368.5 377.5,367 378,367.4 378.5,370 379,369.4 379.5,369.9 380,365.9 380.5,365.6 381,366.4 381.5,365.8 382,368.7 382.5,365.7 383,368.8 383.5,369.6 384,368.6 384.5,365.8 385,366.7 385.5,366.2 386,365.8 386.5,368.2 387,366.5 387.5,368.9 388,366.8 388.5,366.8 389,367.9 389.5,366.8 390,368 390.5,367 391,369 391.5,367.1 392,366.1 392.5,366 393,368.6 393.5,369.8 394,365.7 394.5,367.5 395,369.8 395.5,369 396,369.4 396.5,367.4 397,369.1 397.5,369.1 398,368.2 398.5,367.3 399,367.7 399.5,369.3 400,366.3 400.5,370 401,369.2 401.5,369.7 402,369.1 402.5,367.3 403,366.6 403.5,368.5 404,368.1 404.5,366.2 405,366.3 405.5,367.6 406,366.8 406.5,368.5 407,369.8 407.5,366.7 408,367.1 408.5,369.1 409,365.5 409.5,368.1 410,369.1 410.5,365.8 411,366.1 411.5,367.3 412,367.6 412.5,365.7 413,365.7 413.5,366.5 414,365.5 414.5,368.8 415,369.3 415.5,366.8 416,367.7 416.5,370 417,368.9 417.5,368.5 418,366.7 418.5,369.7 419,368.2 419.5,369.4 420,366.9 420.5,365.6 421,368.4 421.5,368.7 422,367.7 422.5,368.5 423,368.8 423.5,366 424,368.8 424.5,366.4 425,369.5 425.5,367.6 426,369.9 426.5,366.6 427,365.6 427.5,365.6 428,369.3 428.5,375.4" fill="#0000ff"/>
</g>
<text x="0" y="0" font-size="9" fill="#ff0000" text-anchor="middle" dominant-baseline="central" transform="translate(227.3,293.6) rotate(-90)" stroke="#ff0000" stroke-width="0.25" >Input Voltage (V)</text>
<text x="0" y="0" font-size="9" fill="#0000ff" text-anchor="middle" dominant-baseline="central" transform="translate(454.5,292.8) rotate(-90)" stroke="#0000ff" stroke-width="0.25" >Output current (&#956;A)</text>
<text x="345.7" y="404.1" font-size="9" fill="#000" text-anchor="middle" font-weight="normal" stroke="#000" stroke-width="0.25" style="font-kerning:none">Time (ms)</text>
<text x="283.9" y="298.3" font-size="9" fill="#000" text-anchor="start" font-weight="normal" stroke="#000" stroke-width="0.25" >Potentiation</text>
<line x1="285.9" y1="288.5" x2="297.7" y2="278.1" stroke="#000" stroke-width="0.8"/>
<polygon points="300.8,275.3 298.9,280.2 295.7,276.6" fill="#000"/>
<text x="370.8" y="320.6" font-size="9" fill="#000" text-anchor="middle" font-weight="normal" stroke="#000" stroke-width="0.25" >Spontaneous</text>
<text x="371.2" y="331.1" font-size="9" fill="#000" text-anchor="middle" font-weight="normal" stroke="#000" stroke-width="0.25" >Relaxation</text>
<line x1="340.2" y1="332.2" x2="357.6" y2="342.1" stroke="#000" stroke-width="0.8"/>
<polygon points="361.2,344.2 355.9,344 358.3,339.8" fill="#000"/>
<line x1="503" y1="211" x2="666.3" y2="211" stroke="#8a8a8a" stroke-width="1.1"/>
<line x1="503" y1="375" x2="666.3" y2="375" stroke="#606060" stroke-width="1.2"/>
<line x1="503" y1="211" x2="503" y2="375" stroke="#8a8a8a" stroke-width="1"/>
<line x1="666.3" y1="211" x2="666.3" y2="375" stroke="#5050ff" stroke-width="1"/>
<line x1="499.5" y1="368.7" x2="503" y2="368.7" stroke="#ff5050" stroke-width="1"/>
<text x="495" y="371.1" font-size="8.5" fill="#ff0000" text-anchor="end" font-weight="normal" stroke="#ff0000" stroke-width="0.25" >0.0</text>
<line x1="499.5" y1="340.1" x2="503" y2="340.1" stroke="#ff5050" stroke-width="1"/>
<text x="495" y="342.5" font-size="8.5" fill="#ff0000" text-anchor="end" font-weight="normal" stroke="#ff0000" stroke-width="0.25" >0.5</text>
<line x1="499.5" y1="311.6" x2="503" y2="311.6" stroke="#ff5050" stroke-width="1"/>
<text x="495" y="314" font-size="8.5" fill="#ff0000" text-anchor="end" font-weight="normal" stroke="#ff0000" stroke-width="0.25" >1.0</text>
<line x1="499.5" y1="283" x2="503" y2="283" stroke="#ff5050" stroke-width="1"/>
<text x="495" y="285.4" font-size="8.5" fill="#ff0000" text-anchor="end" font-weight="normal" stroke="#ff0000" stroke-width="0.25" >1.5</text>
<line x1="499.5" y1="254.5" x2="503" y2="254.5" stroke="#ff5050" stroke-width="1"/>
<text x="495" y="256.9" font-size="8.5" fill="#ff0000" text-anchor="end" font-weight="normal" stroke="#ff0000" stroke-width="0.25" >2.0</text>
<line x1="499.5" y1="225.9" x2="503" y2="225.9" stroke="#ff5050" stroke-width="1"/>
<text x="495" y="228.3" font-size="8.5" fill="#ff0000" text-anchor="end" font-weight="normal" stroke="#ff0000" stroke-width="0.25" >2.5</text>
<line x1="666.3" y1="375" x2="669.8" y2="375" stroke="#5050ff" stroke-width="1"/>
<text x="673.1" y="378" font-size="8.5" fill="#0000ff" text-anchor="start" font-weight="normal" stroke="#0000ff" stroke-width="0.25" >0.0</text>
<line x1="666.3" y1="328.2" x2="669.8" y2="328.2" stroke="#5050ff" stroke-width="1"/>
<text x="673.1" y="331.2" font-size="8.5" fill="#0000ff" text-anchor="start" font-weight="normal" stroke="#0000ff" stroke-width="0.25" >0.1</text>
<line x1="666.3" y1="281.4" x2="669.8" y2="281.4" stroke="#5050ff" stroke-width="1"/>
<text x="673.1" y="284.4" font-size="8.5" fill="#0000ff" text-anchor="start" font-weight="normal" stroke="#0000ff" stroke-width="0.25" >0.2</text>
<line x1="666.3" y1="234.6" x2="669.8" y2="234.6" stroke="#5050ff" stroke-width="1"/>
<text x="673.1" y="237.6" font-size="8.5" fill="#0000ff" text-anchor="start" font-weight="normal" stroke="#0000ff" stroke-width="0.25" >0.3</text>
<line x1="505" y1="375" x2="505" y2="378" stroke="#444" stroke-width="1"/>
<text x="505" y="388.1" font-size="8.5" fill="#000" text-anchor="middle" font-weight="normal" stroke="#000" stroke-width="0.25" >0</text>
<line x1="554.8" y1="375" x2="554.8" y2="378" stroke="#444" stroke-width="1"/>
<text x="554.8" y="388.1" font-size="8.5" fill="#000" text-anchor="middle" font-weight="normal" stroke="#000" stroke-width="0.25" >50</text>
<line x1="604.6" y1="375" x2="604.6" y2="378" stroke="#444" stroke-width="1"/>
<text x="604.6" y="388.1" font-size="8.5" fill="#000" text-anchor="middle" font-weight="normal" stroke="#000" stroke-width="0.25" >100</text>
<line x1="654.5" y1="375" x2="654.5" y2="378" stroke="#444" stroke-width="1"/>
<text x="654.5" y="388.1" font-size="8.5" fill="#000" text-anchor="middle" font-weight="normal" stroke="#000" stroke-width="0.25" >150</text>
<line x1="529.9" y1="375" x2="529.9" y2="376.8" stroke="#666" stroke-width="0.8"/>
<line x1="579.7" y1="375" x2="579.7" y2="376.8" stroke="#666" stroke-width="0.8"/>
<line x1="629.6" y1="375" x2="629.6" y2="376.8" stroke="#666" stroke-width="0.8"/>
<line x1="501" y1="354.4" x2="503" y2="354.4" stroke="#ff8080" stroke-width="0.8"/>
<line x1="501" y1="325.9" x2="503" y2="325.9" stroke="#ff8080" stroke-width="0.8"/>
<line x1="501" y1="297.3" x2="503" y2="297.3" stroke="#ff8080" stroke-width="0.8"/>
<line x1="501" y1="268.8" x2="503" y2="268.8" stroke="#ff8080" stroke-width="0.8"/>
<line x1="501" y1="240.2" x2="503" y2="240.2" stroke="#ff8080" stroke-width="0.8"/>
<line x1="666.3" y1="351.6" x2="668.3" y2="351.6" stroke="#8080ff" stroke-width="0.8"/>
<line x1="666.3" y1="304.8" x2="668.3" y2="304.8" stroke="#8080ff" stroke-width="0.8"/>
<line x1="666.3" y1="258" x2="668.3" y2="258" stroke="#8080ff" stroke-width="0.8"/>
<g clip-path="url(#clipF)">
<rect x="505" y="225.9" width="159" height="142.8" fill="#ffc4c4"/>
<rect x="505" y="225.9" width="2" height="142.8" fill="#ff0a0a"/>
<rect x="508" y="225.9" width="2" height="142.8" fill="#ff0a0a"/>
<rect x="512" y="225.9" width="2" height="142.8" fill="#ff0a0a"/>
<rect x="515" y="225.9" width="2" height="142.8" fill="#ff0a0a"/>
<rect x="518" y="225.9" width="2" height="142.8" fill="#ff0a0a"/>
<rect x="522" y="225.9" width="2" height="142.8" fill="#ff0a0a"/>
<rect x="525" y="225.9" width="2" height="142.8" fill="#ff0a0a"/>
<rect x="528" y="225.9" width="2" height="142.8" fill="#ff0a0a"/>
<rect x="532" y="225.9" width="2" height="142.8" fill="#ff0a0a"/>
<rect x="535" y="225.9" width="2" height="142.8" fill="#ff0a0a"/>
<rect x="538" y="225.9" width="2" height="142.8" fill="#ff0a0a"/>
<rect x="542" y="225.9" width="2" height="142.8" fill="#ff0a0a"/>
<rect x="545" y="225.9" width="2" height="142.8" fill="#ff0a0a"/>
<rect x="548" y="225.9" width="2" height="142.8" fill="#ff0a0a"/>
<rect x="552" y="225.9" width="2" height="142.8" fill="#ff0a0a"/>
<rect x="555" y="225.9" width="2" height="142.8" fill="#ff0a0a"/>
<rect x="559" y="225.9" width="2" height="142.8" fill="#ff0a0a"/>
<rect x="562" y="225.9" width="2" height="142.8" fill="#ff0a0a"/>
<rect x="565" y="225.9" width="2" height="142.8" fill="#ff0a0a"/>
<rect x="569" y="225.9" width="2" height="142.8" fill="#ff0a0a"/>
<rect x="572" y="225.9" width="2" height="142.8" fill="#ff0a0a"/>
<rect x="575" y="225.9" width="2" height="142.8" fill="#ff0a0a"/>
<rect x="579" y="225.9" width="2" height="142.8" fill="#ff0a0a"/>
<rect x="582" y="225.9" width="2" height="142.8" fill="#ff0a0a"/>
<rect x="585" y="225.9" width="2" height="142.8" fill="#ff0a0a"/>
<rect x="589" y="225.9" width="2" height="142.8" fill="#ff0a0a"/>
<rect x="592" y="225.9" width="2" height="142.8" fill="#ff0a0a"/>
<rect x="595" y="225.9" width="2" height="142.8" fill="#ff0a0a"/>
<rect x="599" y="225.9" width="2" height="142.8" fill="#ff0a0a"/>
<rect x="602" y="225.9" width="2" height="142.8" fill="#ff0a0a"/>
<rect x="605" y="225.9" width="2" height="142.8" fill="#ff0a0a"/>
<rect x="609" y="225.9" width="2" height="142.8" fill="#ff0a0a"/>
<rect x="612" y="225.9" width="2" height="142.8" fill="#ff0a0a"/>
<rect x="615" y="225.9" width="2" height="142.8" fill="#ff0a0a"/>
<rect x="619" y="225.9" width="2" height="142.8" fill="#ff0a0a"/>
<rect x="622" y="225.9" width="2" height="142.8" fill="#ff0a0a"/>
<rect x="625" y="225.9" width="2" height="142.8" fill="#ff0a0a"/>
<rect x="629" y="225.9" width="2" height="142.8" fill="#ff0a0a"/>
<rect x="632" y="225.9" width="2" height="142.8" fill="#ff0a0a"/>
<rect x="635" y="225.9" width="2" height="142.8" fill="#ff0a0a"/>
<rect x="639" y="225.9" width="2" height="142.8" fill="#ff0a0a"/>
<rect x="642" y="225.9" width="2" height="142.8" fill="#ff0a0a"/>
<rect x="645" y="225.9" width="2" height="142.8" fill="#ff0a0a"/>
<rect x="649" y="225.9" width="2" height="142.8" fill="#ff0a0a"/>
<rect x="652" y="225.9" width="2" height="142.8" fill="#ff0a0a"/>
<rect x="656" y="225.9" width="2" height="142.8" fill="#ff0a0a"/>
<rect x="659" y="225.9" width="2" height="142.8" fill="#ff0a0a"/>
<rect x="662" y="225.9" width="2" height="142.8" fill="#ff0a0a"/>
<line x1="505" y1="225.9" x2="664" y2="225.9" stroke="#ff0000" stroke-width="1.3"/>
<rect x="505" y="307.8" width="2" height="67.2" fill="#0000ff"/>
<rect x="507" y="347.3" width="1" height="27.7" fill="#eeeeff"/>
<rect x="507" y="315.7" width="1" height="31.5" fill="#5a2ad0"/>
<rect x="508" y="319.7" width="2" height="55.3" fill="#0000ff"/>
<rect x="510" y="362.6" width="2" height="12.4" fill="#eeeeff"/>
<rect x="510" y="327.6" width="2" height="35" fill="#5a2ad0"/>
<rect x="512" y="301.6" width="2" height="73.4" fill="#0000ff"/>
<rect x="514" y="345.1" width="1" height="29.9" fill="#eeeeff"/>
<rect x="514" y="307.3" width="1" height="37.7" fill="#5a2ad0"/>
<rect x="515" y="295.7" width="2" height="79.3" fill="#0000ff"/>
<rect x="517" y="316.7" width="1" height="58.3" fill="#eeeeff"/>
<rect x="517" y="304.9" width="1" height="11.8" fill="#5a2ad0"/>
<rect x="518" y="274.2" width="2" height="100.8" fill="#0000ff"/>
<rect x="520" y="306.9" width="2" height="68.1" fill="#eeeeff"/>
<rect x="520" y="278.2" width="2" height="28.7" fill="#5a2ad0"/>
<rect x="522" y="272.9" width="2" height="102.1" fill="#0000ff"/>
<rect x="524" y="296.8" width="1" height="78.2" fill="#eeeeff"/>
<rect x="524" y="275" width="1" height="21.7" fill="#5a2ad0"/>
<rect x="525" y="271.5" width="2" height="103.5" fill="#0000ff"/>
<rect x="527" y="310.1" width="1" height="64.9" fill="#eeeeff"/>
<rect x="527" y="280.8" width="1" height="29.3" fill="#5a2ad0"/>
<rect x="528" y="264.8" width="2" height="110.2" fill="#0000ff"/>
<rect x="530" y="286.5" width="2" height="88.5" fill="#eeeeff"/>
<rect x="530" y="273.1" width="2" height="13.4" fill="#5a2ad0"/>
<rect x="532" y="286.8" width="2" height="88.2" fill="#0000ff"/>
<rect x="534" y="304.9" width="1" height="70.1" fill="#eeeeff"/>
<rect x="534" y="289.9" width="1" height="15" fill="#5a2ad0"/>
<rect x="535" y="285.5" width="2" height="89.5" fill="#0000ff"/>
<rect x="537" y="309.3" width="1" height="65.7" fill="#eeeeff"/>
<rect x="537" y="289.2" width="1" height="20.1" fill="#5a2ad0"/>
<rect x="538" y="283" width="2" height="92" fill="#0000ff"/>
<rect x="540" y="308.8" width="2" height="66.2" fill="#eeeeff"/>
<rect x="540" y="292" width="2" height="16.8" fill="#5a2ad0"/>
<rect x="542" y="280.4" width="2" height="94.6" fill="#0000ff"/>
<rect x="544" y="316.7" width="1" height="58.3" fill="#eeeeff"/>
<rect x="544" y="286.7" width="1" height="30" fill="#5a2ad0"/>
<rect x="545" y="272" width="2" height="103" fill="#0000ff"/>
<rect x="547" y="308.7" width="1" height="66.3" fill="#eeeeff"/>
<rect x="547" y="281.6" width="1" height="27.1" fill="#5a2ad0"/>
<rect x="548" y="279.7" width="2" height="95.3" fill="#0000ff"/>
<rect x="550" y="305.7" width="2" height="69.3" fill="#eeeeff"/>
<rect x="550" y="288.8" width="2" height="16.9" fill="#5a2ad0"/>
<rect x="552" y="271.2" width="2" height="103.8" fill="#0000ff"/>
<rect x="554" y="293.1" width="1" height="81.9" fill="#eeeeff"/>
<rect x="554" y="274.5" width="1" height="18.6" fill="#5a2ad0"/>
<rect x="555" y="264.2" width="2" height="110.8" fill="#0000ff"/>
<rect x="557" y="298.4" width="2" height="76.6" fill="#eeeeff"/>
<rect x="557" y="268.6" width="2" height="29.9" fill="#5a2ad0"/>
<rect x="559" y="256" width="2" height="119" fill="#0000ff"/>
<rect x="561" y="283.2" width="1" height="91.8" fill="#eeeeff"/>
<rect x="561" y="263.5" width="1" height="19.7" fill="#5a2ad0"/>
<rect x="562" y="254.1" width="2" height="120.9" fill="#0000ff"/>
<rect x="564" y="285.1" width="1" height="89.9" fill="#eeeeff"/>
<rect x="564" y="262.6" width="1" height="22.4" fill="#5a2ad0"/>
<rect x="565" y="251.6" width="2" height="123.4" fill="#0000ff"/>
<rect x="567" y="288.6" width="2" height="86.4" fill="#eeeeff"/>
<rect x="567" y="257.4" width="2" height="31.2" fill="#5a2ad0"/>
<rect x="569" y="250.3" width="2" height="124.7" fill="#0000ff"/>
<rect x="571" y="269" width="1" height="106" fill="#eeeeff"/>
<rect x="571" y="260.1" width="1" height="8.8" fill="#5a2ad0"/>
<rect x="572" y="254.8" width="2" height="120.2" fill="#0000ff"/>
<rect x="574" y="273.3" width="1" height="101.7" fill="#eeeeff"/>
<rect x="574" y="263.5" width="1" height="9.7" fill="#5a2ad0"/>
<rect x="575" y="251.6" width="2" height="123.4" fill="#0000ff"/>
<rect x="577" y="285.2" width="2" height="89.8" fill="#eeeeff"/>
<rect x="577" y="256.5" width="2" height="28.7" fill="#5a2ad0"/>
<rect x="579" y="239.6" width="2" height="135.4" fill="#0000ff"/>
<rect x="581" y="262.5" width="1" height="112.5" fill="#eeeeff"/>
<rect x="581" y="242" width="1" height="20.5" fill="#5a2ad0"/>
<rect x="582" y="246" width="2" height="129" fill="#0000ff"/>
<rect x="584" y="284.4" width="1" height="90.6" fill="#eeeeff"/>
<rect x="584" y="249.5" width="1" height="34.8" fill="#5a2ad0"/>
<rect x="585" y="245.6" width="2" height="129.4" fill="#0000ff"/>
<rect x="587" y="272.9" width="2" height="102.1" fill="#eeeeff"/>
<rect x="587" y="255.2" width="2" height="17.8" fill="#5a2ad0"/>
<rect x="589" y="240.4" width="2" height="134.6" fill="#0000ff"/>
<rect x="591" y="279.3" width="1" height="95.7" fill="#eeeeff"/>
<rect x="591" y="246.6" width="1" height="32.7" fill="#5a2ad0"/>
<rect x="592" y="240.1" width="2" height="134.9" fill="#0000ff"/>
<rect x="594" y="279.6" width="1" height="95.4" fill="#eeeeff"/>
<rect x="594" y="248.1" width="1" height="31.5" fill="#5a2ad0"/>
<rect x="595" y="251.1" width="2" height="123.9" fill="#0000ff"/>
<rect x="597" y="294.7" width="2" height="80.3" fill="#eeeeff"/>
<rect x="597" y="253.4" width="2" height="41.2" fill="#5a2ad0"/>
<rect x="599" y="243.6" width="2" height="131.4" fill="#0000ff"/>
<rect x="601" y="278.1" width="1" height="96.9" fill="#eeeeff"/>
<rect x="601" y="248.3" width="1" height="29.8" fill="#5a2ad0"/>
<rect x="602" y="248.2" width="2" height="126.8" fill="#0000ff"/>
<rect x="604" y="291.1" width="1" height="83.9" fill="#eeeeff"/>
<rect x="604" y="252.9" width="1" height="38.2" fill="#5a2ad0"/>
<rect x="605" y="246.4" width="2" height="128.6" fill="#0000ff"/>
<rect x="607" y="272.9" width="2" height="102.1" fill="#eeeeff"/>
<rect x="607" y="250.9" width="2" height="22.1" fill="#5a2ad0"/>
<rect x="609" y="245.3" width="2" height="129.7" fill="#0000ff"/>
<rect x="611" y="267.3" width="1" height="107.7" fill="#eeeeff"/>
<rect x="611" y="247.9" width="1" height="19.4" fill="#5a2ad0"/>
<rect x="612" y="251.6" width="2" height="123.4" fill="#0000ff"/>
<rect x="614" y="273.9" width="1" height="101.1" fill="#eeeeff"/>
<rect x="614" y="261.5" width="1" height="12.4" fill="#5a2ad0"/>
<rect x="615" y="241.1" width="2" height="133.9" fill="#0000ff"/>
<rect x="617" y="273.5" width="2" height="101.5" fill="#eeeeff"/>
<rect x="617" y="251" width="2" height="22.5" fill="#5a2ad0"/>
<rect x="619" y="242.9" width="2" height="132.1" fill="#0000ff"/>
<rect x="621" y="276.9" width="1" height="98.1" fill="#eeeeff"/>
<rect x="621" y="246.8" width="1" height="30.1" fill="#5a2ad0"/>
<rect x="622" y="248.3" width="2" height="126.7" fill="#0000ff"/>
<rect x="624" y="277.7" width="1" height="97.3" fill="#eeeeff"/>
<rect x="624" y="254" width="1" height="23.7" fill="#5a2ad0"/>
<rect x="625" y="231.5" width="2" height="143.5" fill="#0000ff"/>
<rect x="627" y="250.3" width="2" height="124.7" fill="#eeeeff"/>
<rect x="627" y="240.8" width="2" height="9.6" fill="#5a2ad0"/>
<rect x="629" y="233.8" width="2" height="141.2" fill="#0000ff"/>
<rect x="631" y="255.3" width="1" height="119.7" fill="#eeeeff"/>
<rect x="631" y="242.5" width="1" height="12.8" fill="#5a2ad0"/>
<rect x="632" y="239.7" width="2" height="135.3" fill="#0000ff"/>
<rect x="634" y="274.7" width="1" height="100.3" fill="#eeeeff"/>
<rect x="634" y="249.3" width="1" height="25.4" fill="#5a2ad0"/>
<rect x="635" y="239.2" width="2" height="135.8" fill="#0000ff"/>
<rect x="637" y="268.9" width="2" height="106.1" fill="#eeeeff"/>
<rect x="637" y="242" width="2" height="26.9" fill="#5a2ad0"/>
<rect x="639" y="230.1" width="2" height="144.9" fill="#0000ff"/>
<rect x="641" y="256.1" width="1" height="118.9" fill="#eeeeff"/>
<rect x="641" y="238.9" width="1" height="17.2" fill="#5a2ad0"/>
<rect x="642" y="231.3" width="2" height="143.7" fill="#0000ff"/>
<rect x="644" y="272.3" width="1" height="102.7" fill="#eeeeff"/>
<rect x="644" y="241.3" width="1" height="31" fill="#5a2ad0"/>
<rect x="645" y="239.2" width="2" height="135.8" fill="#0000ff"/>
<rect x="647" y="270.4" width="2" height="104.6" fill="#eeeeff"/>
<rect x="647" y="244.9" width="2" height="25.6" fill="#5a2ad0"/>
<rect x="649" y="243" width="2" height="132" fill="#0000ff"/>
<rect x="651" y="268.8" width="1" height="106.2" fill="#eeeeff"/>
<rect x="651" y="248.8" width="1" height="20" fill="#5a2ad0"/>
<rect x="652" y="238.5" width="2" height="136.5" fill="#0000ff"/>
<rect x="654" y="266.7" width="2" height="108.3" fill="#eeeeff"/>
<rect x="654" y="241.7" width="2" height="25" fill="#5a2ad0"/>
<rect x="656" y="254.5" width="2" height="120.5" fill="#0000ff"/>
<rect x="658" y="289.5" width="1" height="85.5" fill="#eeeeff"/>
<rect x="658" y="264.2" width="1" height="25.2" fill="#5a2ad0"/>
<rect x="659" y="251.7" width="2" height="123.3" fill="#0000ff"/>
<rect x="661" y="272.1" width="1" height="102.9" fill="#eeeeff"/>
<rect x="661" y="256.5" width="1" height="15.7" fill="#5a2ad0"/>
<rect x="662" y="233.7" width="2" height="141.3" fill="#0000ff"/>
<rect x="664" y="275.1" width="1" height="99.9" fill="#eeeeff"/>
<rect x="664" y="242" width="1" height="33.2" fill="#5a2ad0"/>
</g>
<text x="0" y="0" font-size="9" fill="#ff0000" text-anchor="middle" dominant-baseline="central" transform="translate(473,289.8) rotate(-90)" stroke="#ff0000" stroke-width="0.25" >Input Voltage (V)</text>
<text x="0" y="0" font-size="8.9" fill="#0000ff" text-anchor="middle" dominant-baseline="central" transform="translate(692.8,290.8) rotate(-90)" stroke="#0000ff" stroke-width="0.25" >Output current (&#956;A)</text>
<text x="585" y="404" font-size="9" fill="#000" text-anchor="middle" font-weight="normal" stroke="#000" stroke-width="0.25" style="font-kerning:none">Time (ms)</text>
<text x="1.5" y="14" font-size="13" fill="#000" text-anchor="start" font-weight="bold" stroke="#000" stroke-width="0.25" >a.</text>
<text x="221" y="14" font-size="12.6" fill="#000" text-anchor="start" font-weight="bold" stroke="#000" stroke-width="0.25" >b.</text>
<text x="469.5" y="15" font-size="13" fill="#000" text-anchor="start" font-weight="bold" stroke="#000" stroke-width="0.25" >c.</text>
<text x="1.8" y="222" font-size="12.6" fill="#000" text-anchor="start" font-weight="bold" stroke="#000" stroke-width="0.25" >d.</text>
<text x="223.6" y="221.7" font-size="13" fill="#000" text-anchor="start" font-weight="bold" stroke="#000" stroke-width="0.25" >e.</text>
<text x="470.2" y="216.2" font-size="13" fill="#000" text-anchor="start" font-weight="bold" stroke="#000" stroke-width="0.25" >f.</text>
</svg></body></html>
